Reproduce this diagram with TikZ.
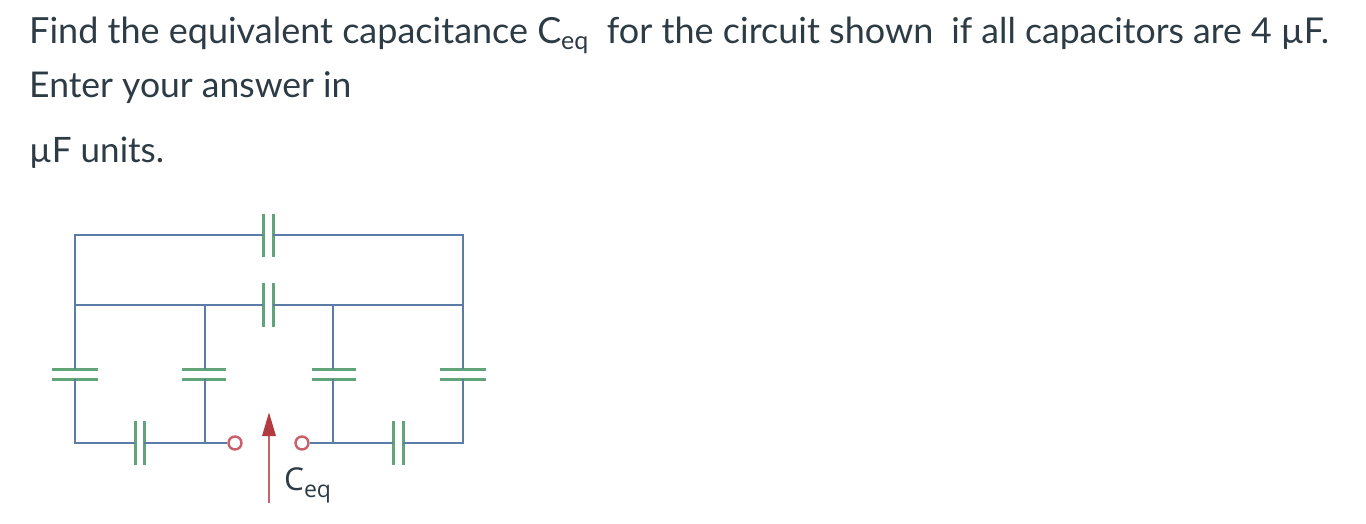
\documentclass[tikz,border=0pt]{standalone}
\usepackage{fontspec}
\setmainfont{Lato}
\newfontfamily\lblfont{Open Sans}
\definecolor{wirec}{HTML}{5B7CA6}
\definecolor{platec}{HTML}{62A47A}
\definecolor{redl}{HTML}{C9606A}
\definecolor{redh}{HTML}{B23A40}
\definecolor{textc}{HTML}{2D3B45}
\tikzset{
  wire/.style={draw=wirec,line width=2.4pt,line join=miter},
  plate/.style={draw=platec,line width=3pt},
  term/.style={circle,draw=redl,line width=2.4pt,fill=white,minimum size=13pt,inner sep=0pt},
  qtext/.style={anchor=base west,inner sep=0pt,text=textc,font=\fontsize{35.5}{40}\selectfont},
}
\begin{document}
\begin{tikzpicture}[x=1pt,y=-1pt]
\useasboundingbox (0,0) rectangle (1366,524);
% text
\node[qtext,font=\fontsize{36}{40}\selectfont] (l1) at (29,44) {Find the equivalent capacitance C\raisebox{-6pt}{\fontsize{25}{24}\selectfont eq}\hspace{18.5pt}for the circuit shown\hspace{18pt}{\fontsize{35.6}{40}\selectfont if all capacitors are 4 µF.}};
\node[qtext] (l2) at (29,98) {Enter your answer in};
\node[qtext,font=\fontsize{35}{40}\selectfont] (l3) at (29,163) {µF units.};
% corners and junctions
\coordinate (tl) at (75,235);
\coordinate (tr) at (463,235);
\coordinate (ml) at (75,305);
\coordinate (mr) at (463,305);
\coordinate (j2) at (205,305);
\coordinate (j3) at (333,305);
\coordinate (bl) at (75,443);
\coordinate (br) at (463,443);
\coordinate (b2) at (205,443);
\coordinate (b3) at (333,443);
% terminals
\node[term] (tA) at (235,443) {};
\node[term] (tB) at (302,443) {};
% horizontal capacitors
\foreach \n/\xa/\xb/\yy/\h in {ct/263/273/235/21.5, cm/263/273/305/22, cbl/135/144/443/22, cbr/393/403/443/22}{
  \coordinate (\n a) at (\xa,\yy);
  \coordinate (\n b) at (\xb,\yy);
  \draw[plate] (\xa,\yy-\h) -- (\xa,\yy+\h);
  \draw[plate] (\xb,\yy-\h) -- (\xb,\yy+\h);
}
% vertical capacitors
\foreach \n/\xx/\xl/\xr in {v1/75/52/98, v2/205/182/226, v3/333/312/356, v4/463/440/486}{
  \coordinate (\n a) at (\xx,369);
  \coordinate (\n b) at (\xx,379);
  \draw[plate] (\xl,369) -- (\xr,369);
  \draw[plate] (\xl,379) -- (\xr,379);
}
% wires
\draw[wire] (cta) -- (tl) -- (v1a);
\draw[wire] (ctb) -- (tr) -- (v4a);
\draw[wire] (ml) -- (cma);
\draw[wire] (cmb) -- (mr);
\draw[wire] (j2) -- (v2a);
\draw[wire] (j3) -- (v3a);
\draw[wire] (v1b) -- (bl) -- (cbla);
\draw[wire] (cblb) -- (tA);
\draw[wire] (v2b) -- (b2);
\draw[wire] (v3b) -- (b3);
\draw[wire] (tB) -- (cbra);
\draw[wire] (cbrb) -- (br) -- (v4b);
% arrow
\coordinate (as) at (269,503);
\coordinate (ab) at (269,436);
\coordinate (at) at (269,412.5);
\draw[draw=redl,line width=2.2pt] (as) -- (ab);
\fill[redh] (at) -- (276,436) -- (262,436) -- cycle;
% label
\node[anchor=base west,inner sep=0pt,text=textc,font=\lblfont\fontsize{31.5}{30}\selectfont] (ceq) at (284,490) {C\raisebox{-7pt}{\fontsize{23}{19}\selectfont eq}};
\end{tikzpicture}
\end{document}
